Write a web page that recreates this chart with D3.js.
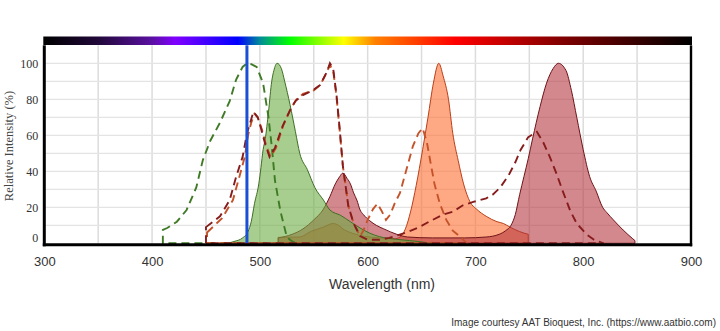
<!DOCTYPE html>
<html>
<head>
<meta charset="utf-8">
<script src="https://cdn.jsdelivr.net/npm/d3@7"></script>
<style>
  html, body { margin: 0; padding: 0; background: #fff; }
  svg { display: block; }
</style>
</head>
<body>
<svg id="chart" width="720" height="331"></svg>
<script>
// Axis ticks
const xTicks = [300, 400, 500, 600, 700, 800, 900];
const yTicks = [0, 20, 40, 60, 80, 100];
const laserLine = 488;

// Visible-spectrum bar (wavelength -> colour)
const barWl = [300, 350, 400, 422, 480, 500, 528, 578, 607, 681, 780, 900];
const barColor = ["#000000", "#200838", "#5a10a0", "#8000ff", "#0000ff", "#008a9a", "#00ff00", "#ffff00", "#ff8000", "#ff0000", "#800000", "#000000"];

// FITC excitation (dashed)
const fitcExWl  = [410, 414, 423, 432, 441, 447, 454, 463, 472, 478, 484, 488, 492, 497, 503, 508, 511, 514, 519, 525, 530, 534];
const fitcExVal = [7.4, 8.5, 12, 18.5, 31, 46, 57, 67, 79, 91, 98, 100, 99.5, 98, 89, 70, 54, 35, 18, 3.5, 1, 0];

// PE-Cy7 excitation (dashed)
const pecy7ExWl  = [450, 463, 472, 478, 484, 488, 491, 494, 498, 501, 505, 509, 514, 521, 528, 533, 539, 549, 556, 562, 565, 568, 571, 574, 577, 582, 587, 593, 600, 611, 620, 636, 648, 657, 670, 679, 688, 698, 710, 716, 723, 731, 737, 742, 749, 757, 763, 769, 775, 781, 788, 794, 803, 810, 819];
const pecy7ExVal = [9, 15, 24, 37, 48, 61, 67, 73, 70, 64, 55, 48, 53, 65, 74, 79, 82, 85, 88, 95, 100, 97, 83, 64, 43, 21, 11, 4, 2, 2, 3, 6, 9, 12, 16, 17.5, 21, 23, 25, 27, 31, 38, 45, 52, 59, 62, 56, 48, 39, 29, 18, 11, 5, 2, 0];

// PE-Cy5 excitation (dashed)
const pecy5ExWl  = [451, 465, 475, 481, 486, 489, 492, 495, 498, 502, 506, 510, 515, 522, 529, 534, 540, 550, 556, 562, 565, 568, 571, 574, 577, 582, 587, 593, 596, 600, 605, 609, 613, 617, 621, 625, 630, 636, 642, 647, 651, 655, 658, 662, 667, 673, 679, 686, 692];
const pecy5ExVal = [6, 14, 24, 37, 48, 60, 67, 72, 70, 63, 54, 48, 53, 66, 75, 80, 83, 85, 88, 95, 99, 96, 82, 63, 43, 21, 11, 4, 7, 13, 19, 22, 18, 13, 16, 22, 28, 41, 54, 61, 64, 56, 46, 33, 22, 13, 7, 3.5, 0];

// FITC emission (filled)
const fitcEmWl  = [470, 476, 484, 489, 492, 495, 499, 501, 503, 505, 508, 511, 513, 516, 520, 523, 528, 533, 537, 544, 551, 559, 565, 575, 584, 593, 602, 611, 627, 639, 650, 660];
const fitcEmVal = [0, 1, 3, 6.5, 12, 22, 33, 42, 52, 58, 73, 90, 96, 100, 97, 90, 77, 62, 50, 41, 31, 24, 18.5, 15.5, 12, 8.5, 5.6, 3.7, 2.2, 1.5, 0.8, 0];

// PE-Cy7 emission (filled)
const pecy7EmWl  = [517, 530, 540, 550, 559, 565, 570, 574, 577, 581, 584, 587, 590, 593, 596, 602, 608, 615, 627, 637, 660, 690, 710, 722, 728, 733, 737, 741, 745, 749, 753, 760, 766, 772, 777, 784, 789, 794, 800, 806, 812, 818, 822, 828, 837, 846, 848];
const pecy7EmVal = [3, 5, 8, 13, 19, 26, 33, 37, 39, 36, 33, 28, 24, 18.5, 16, 12.5, 10, 8, 5, 3.5, 3, 3, 3.5, 5, 7, 10, 16, 27, 37, 47, 58, 76, 89, 97, 100, 96, 85, 70, 52, 37, 29, 20, 17, 13, 7.4, 2.5, 1.5];

// PE-Cy5 emission (filled)
const pecy5EmWl  = [517, 537, 547, 559, 568, 573, 577, 584, 596, 611, 625, 630, 635, 640, 645, 651, 656, 661, 666, 670, 675, 679, 684, 689, 695, 701, 710, 720, 726, 732, 741, 749];
const pecy5EmVal = [3.3, 3.5, 6.5, 9, 11, 10, 8, 6, 4, 3, 2.5, 3.5, 8, 18, 32, 52, 70, 89, 100, 93, 80, 61, 46, 33, 23, 19, 15, 12, 11, 9, 6.5, 5];

const plot = { left: 44.3, right: 691, top: 45.3, bottom: 243.3 };

const svg = d3.select("#chart");
const x = d3.scaleLinear().domain([300, 900]).range([plot.left, plot.right]);
const y = d3.scaleLinear().domain([0, 110]).range([plot.bottom, plot.top]);

// grid
const grid = svg.append("g");
grid.selectAll("line.v").data(d3.range(350, 900, 50)).join("line")
  .attr("x1", d => x(d)).attr("x2", d => x(d))
  .attr("y1", plot.top).attr("y2", plot.bottom)
  .attr("stroke", "#dcdcdc").attr("stroke-width", 1.5);
grid.selectAll("line.h").data(d3.range(10, 110, 10)).join("line")
  .attr("x1", plot.left).attr("x2", plot.right)
  .attr("y1", d => y(d)).attr("y2", d => y(d))
  .attr("stroke", "#e4e4e4").attr("stroke-width", 1.2);

// spectrum bar
const defs = svg.append("defs");
const grad = defs.append("linearGradient").attr("id", "spectrum")
  .attr("x1", "0%").attr("x2", "100%").attr("y1", "0%").attr("y2", "0%");
barWl.forEach((w, i) => {
  grad.append("stop").attr("offset", ((w - 300) / 600 * 100) + "%").attr("stop-color", barColor[i]);
});
svg.append("rect").attr("x", x(300) - 1).attr("y", 36.5)
  .attr("width", x(900) - x(300) + 2).attr("height", 8.5)
  .attr("fill", "url(#spectrum)");

function pts(wl, val) { return wl.map((w, i) => [w, val[i]]); }

const areaSmooth = d3.area().x(d => x(d[0])).y0(y(0)).y1(d => y(d[1])).curve(d3.curveMonotoneX);
const areaLinear = d3.area().x(d => x(d[0])).y0(y(0)).y1(d => y(d[1])).curve(d3.curveLinear);

// emission fills (green drawn last so overlaps read olive)
const fills = svg.append("g");
fills.append("path").attr("d", areaSmooth(pts(pecy5EmWl, pecy5EmVal)))
  .attr("fill", "rgb(255,112,50)").attr("fill-opacity", 0.6)
  .attr("stroke", "#b8401a").attr("stroke-width", 1);
fills.append("path").attr("d", areaSmooth(pts(pecy7EmWl, pecy7EmVal)))
  .attr("fill", "rgb(180,50,58)").attr("fill-opacity", 0.58)
  .attr("stroke", "#6e1418").attr("stroke-width", 1);
fills.append("path").attr("d", areaSmooth(pts(fitcEmWl, fitcEmVal)))
  .attr("fill", "rgb(108,174,66)").attr("fill-opacity", 0.6)
  .attr("stroke", "#3f6e24").attr("stroke-width", 1);

// excitation dashes
const dashes = svg.append("g").attr("fill", "none");
dashes.append("path").attr("d", areaLinear(pts(fitcExWl, fitcExVal)))
  .attr("stroke", "#3f7a25").attr("stroke-width", 1.9).attr("stroke-dasharray", "8,5");
dashes.append("path").attr("d", areaLinear(pts(pecy5ExWl, pecy5ExVal)))
  .attr("stroke", "#c4532a").attr("stroke-width", 1.9).attr("stroke-dasharray", "8,5");
dashes.append("path").attr("d", areaLinear(pts(pecy7ExWl, pecy7ExVal)))
  .attr("stroke", "#861c1c").attr("stroke-width", 1.9).attr("stroke-dasharray", "8,5");

// laser line
svg.append("line")
  .attr("x1", x(laserLine)).attr("x2", x(laserLine))
  .attr("y1", plot.top).attr("y2", plot.bottom)
  .attr("stroke", "#1a4fd6").attr("stroke-width", 3);

// frame
svg.append("line").attr("x1", plot.left).attr("x2", plot.left)
  .attr("y1", plot.top).attr("y2", plot.bottom + 3)
  .attr("stroke", "#000").attr("stroke-width", 3);
svg.append("line").attr("x1", plot.left - 1.5).attr("x2", plot.right + 1.2)
  .attr("y1", plot.bottom + 1.5).attr("y2", plot.bottom + 1.5)
  .attr("stroke", "#000").attr("stroke-width", 3);
svg.append("line").attr("x1", plot.right).attr("x2", plot.right)
  .attr("y1", plot.top).attr("y2", plot.bottom + 3)
  .attr("stroke", "#000").attr("stroke-width", 2.4);

// axes
const yAxis = svg.append("g").attr("transform", `translate(${plot.left},0)`)
  .call(d3.axisLeft(y).tickValues(yTicks).tickSize(0).tickPadding(6));
yAxis.select(".domain").remove();
yAxis.selectAll("text")
  .attr("font-family", "'Liberation Serif', 'Times New Roman', serif")
  .attr("font-size", 12).attr("fill", "#333");
yAxis.selectAll(".tick").filter(d => d === 0).select("text").attr("dy", "-0.18em");

const xAxis = svg.append("g").attr("transform", `translate(0,${plot.bottom})`)
  .call(d3.axisBottom(x).tickValues(xTicks).tickSize(0).tickPadding(13));
xAxis.select(".domain").remove();
xAxis.selectAll("text")
  .attr("font-family", "'Liberation Sans', Arial, sans-serif")
  .attr("font-size", 13).attr("fill", "#333");

// titles
svg.append("text")
  .attr("transform", "translate(13,146) rotate(-90)")
  .attr("text-anchor", "middle")
  .attr("font-family", "'Liberation Serif', 'Times New Roman', serif")
  .attr("font-size", 12.5).attr("fill", "#444")
  .text("Relative Intensity (%)");

svg.append("text")
  .attr("x", 382).attr("y", 289)
  .attr("text-anchor", "middle")
  .attr("font-family", "'Liberation Sans', Arial, sans-serif")
  .attr("font-size", 14).attr("fill", "#333")
  .text("Wavelength (nm)");

svg.append("text")
  .attr("x", 716).attr("y", 326)
  .attr("text-anchor", "end")
  .attr("font-family", "'Liberation Sans', Arial, sans-serif")
  .attr("font-size", 10).attr("fill", "#333")
  .text("Image courtesy AAT Bioquest, Inc. (https://www.aatbio.com)");
</script>
</body>
</html>
